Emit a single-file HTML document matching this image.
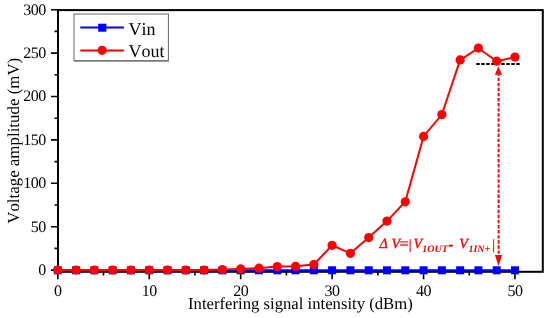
<!DOCTYPE html><html><head><meta charset="utf-8"><style>html,body{margin:0;padding:0;background:#fff;width:550px;height:318px;overflow:hidden}svg{display:block}text{font-family:"Liberation Serif","Times New Roman",serif;font-kerning:none;text-rendering:geometricPrecision}.k{}</style></head><body>
<svg width="550" height="318" viewBox="0 0 550 318">
<rect width="550" height="318" fill="#fff"/>
<path d="M51 270.10H58 M51 226.70H58 M51 183.30H58 M51 139.90H58 M51 96.50H58 M51 53.10H58 M51 9.70H58 M54.5 248.40H58 M54.5 205.00H58 M54.5 161.60H58 M54.5 118.20H58 M54.5 74.80H58 M54.5 31.40H58 M57.80 271.8V279.2 M149.24 271.8V279.2 M240.68 271.8V279.2 M332.12 271.8V279.2 M423.56 271.8V279.2 M515.00 271.8V279.2 M103.52 271.8V275.6 M194.96 271.8V275.6 M286.40 271.8V275.6 M377.84 271.8V275.6 M469.28 271.8V275.6" stroke="#000" stroke-width="1.6" fill="none"/>
<rect x="58" y="10.1" width="484.80" height="261.70" fill="none" stroke="#000" stroke-width="2"/>
<text class="k" x="45.9" y="274.95" font-size="16" text-anchor="end" letter-spacing="-0.45">0</text>
<text class="k" x="45.9" y="231.55" font-size="16" text-anchor="end" letter-spacing="-0.45">50</text>
<text class="k" x="45.9" y="188.15" font-size="16" text-anchor="end" letter-spacing="-0.45">100</text>
<text class="k" x="45.9" y="144.75" font-size="16" text-anchor="end" letter-spacing="-0.45">150</text>
<text class="k" x="45.9" y="101.35" font-size="16" text-anchor="end" letter-spacing="-0.45">200</text>
<text class="k" x="45.9" y="57.95" font-size="16" text-anchor="end" letter-spacing="-0.45">250</text>
<text class="k" x="45.9" y="14.55" font-size="16" text-anchor="end" letter-spacing="-0.45">300</text>
<text class="k" x="57.80" y="296" font-size="16" text-anchor="middle" letter-spacing="-0.45">0</text>
<text class="k" x="149.24" y="296" font-size="16" text-anchor="middle" letter-spacing="-0.45">10</text>
<text class="k" x="240.68" y="296" font-size="16" text-anchor="middle" letter-spacing="-0.45">20</text>
<text class="k" x="332.12" y="296" font-size="16" text-anchor="middle" letter-spacing="-0.45">30</text>
<text class="k" x="423.56" y="296" font-size="16" text-anchor="middle" letter-spacing="-0.45">40</text>
<text class="k" x="515.00" y="296" font-size="16" text-anchor="middle" letter-spacing="-0.45">50</text>
<text transform="translate(18.7,140.8) rotate(-90)" font-size="16.9" text-anchor="middle">Voltage amplitude (mV)</text>
<text x="300.4" y="308.9" font-size="16.7" text-anchor="middle">Interfering signal intensity (dBm)</text>
<path d="M476.3 64H520.5" stroke="#000" stroke-width="2" stroke-dasharray="3.4 1.6"/>
<polyline points="57.80,270.3 76.09,270.3 94.38,270.3 112.66,270.3 130.95,270.3 149.24,270.3 167.53,270.3 185.82,270.3 204.10,270.3 222.39,270.3 240.68,270.3 258.97,270.3 277.26,270.3 295.54,270.3 313.83,270.3 332.12,270.3 350.41,270.3 368.70,270.3 386.98,270.3 405.27,270.3 423.56,270.3 441.85,270.3 460.14,270.3 478.42,270.3 496.71,270.3 515.00,270.3" fill="none" stroke="#0000ff" stroke-width="2"/>
<rect x="53.80" y="266.30" width="8" height="8" fill="#0000ff"/>
<rect x="72.09" y="266.30" width="8" height="8" fill="#0000ff"/>
<rect x="90.38" y="266.30" width="8" height="8" fill="#0000ff"/>
<rect x="108.66" y="266.30" width="8" height="8" fill="#0000ff"/>
<rect x="126.95" y="266.30" width="8" height="8" fill="#0000ff"/>
<rect x="145.24" y="266.30" width="8" height="8" fill="#0000ff"/>
<rect x="163.53" y="266.30" width="8" height="8" fill="#0000ff"/>
<rect x="181.82" y="266.30" width="8" height="8" fill="#0000ff"/>
<rect x="200.10" y="266.30" width="8" height="8" fill="#0000ff"/>
<rect x="218.39" y="266.30" width="8" height="8" fill="#0000ff"/>
<rect x="236.68" y="266.30" width="8" height="8" fill="#0000ff"/>
<rect x="254.97" y="266.30" width="8" height="8" fill="#0000ff"/>
<rect x="273.26" y="266.30" width="8" height="8" fill="#0000ff"/>
<rect x="291.54" y="266.30" width="8" height="8" fill="#0000ff"/>
<rect x="309.83" y="266.30" width="8" height="8" fill="#0000ff"/>
<rect x="328.12" y="266.30" width="8" height="8" fill="#0000ff"/>
<rect x="346.41" y="266.30" width="8" height="8" fill="#0000ff"/>
<rect x="364.70" y="266.30" width="8" height="8" fill="#0000ff"/>
<rect x="382.98" y="266.30" width="8" height="8" fill="#0000ff"/>
<rect x="401.27" y="266.30" width="8" height="8" fill="#0000ff"/>
<rect x="419.56" y="266.30" width="8" height="8" fill="#0000ff"/>
<rect x="437.85" y="266.30" width="8" height="8" fill="#0000ff"/>
<rect x="456.14" y="266.30" width="8" height="8" fill="#0000ff"/>
<rect x="474.42" y="266.30" width="8" height="8" fill="#0000ff"/>
<rect x="492.71" y="266.30" width="8" height="8" fill="#0000ff"/>
<rect x="511.00" y="266.30" width="8" height="8" fill="#0000ff"/>
<polyline points="57.80,270 76.09,270 94.38,270 112.66,270 130.95,270 149.24,270 167.53,270 185.82,270 204.10,270.1 222.39,269.6 240.68,268.9 258.97,268.2 277.26,266.6 295.54,266.3 313.83,264.5 332.12,245.3 350.41,253.3 368.70,237.6 386.98,221.1 405.27,201.8 423.56,136.4 441.85,114.6 460.14,59.9 478.42,48.1 496.71,61.2 515.00,57.1" fill="none" stroke="#ff0000" stroke-width="2"/>
<circle cx="57.80" cy="270" r="4.6" fill="#ff0000"/>
<circle cx="76.09" cy="270" r="4.6" fill="#ff0000"/>
<circle cx="94.38" cy="270" r="4.6" fill="#ff0000"/>
<circle cx="112.66" cy="270" r="4.6" fill="#ff0000"/>
<circle cx="130.95" cy="270" r="4.6" fill="#ff0000"/>
<circle cx="149.24" cy="270" r="4.6" fill="#ff0000"/>
<circle cx="167.53" cy="270" r="4.6" fill="#ff0000"/>
<circle cx="185.82" cy="270" r="4.6" fill="#ff0000"/>
<circle cx="204.10" cy="270.1" r="4.6" fill="#ff0000"/>
<circle cx="222.39" cy="269.6" r="4.6" fill="#ff0000"/>
<circle cx="240.68" cy="268.9" r="4.6" fill="#ff0000"/>
<circle cx="258.97" cy="268.2" r="4.6" fill="#ff0000"/>
<circle cx="277.26" cy="266.6" r="4.6" fill="#ff0000"/>
<circle cx="295.54" cy="266.3" r="4.6" fill="#ff0000"/>
<circle cx="313.83" cy="264.5" r="4.6" fill="#ff0000"/>
<circle cx="332.12" cy="245.3" r="4.6" fill="#ff0000"/>
<circle cx="350.41" cy="253.3" r="4.6" fill="#ff0000"/>
<circle cx="368.70" cy="237.6" r="4.6" fill="#ff0000"/>
<circle cx="386.98" cy="221.1" r="4.6" fill="#ff0000"/>
<circle cx="405.27" cy="201.8" r="4.6" fill="#ff0000"/>
<circle cx="423.56" cy="136.4" r="4.6" fill="#ff0000"/>
<circle cx="441.85" cy="114.6" r="4.6" fill="#ff0000"/>
<circle cx="460.14" cy="59.9" r="4.6" fill="#ff0000"/>
<circle cx="478.42" cy="48.1" r="4.6" fill="#ff0000"/>
<circle cx="496.71" cy="61.2" r="4.6" fill="#ff0000"/>
<circle cx="515.00" cy="57.1" r="4.6" fill="#ff0000"/>
<path d="M498.6 75V255" stroke="#ff0000" stroke-width="1.9" stroke-dasharray="3.4 1.68" stroke-dashoffset="2.38"/>
<path d="M498.4 66.3L501.9 74.8H494.9Z" fill="#ff0000"/>
<path d="M498.5 266.3L502 254.9H495Z" fill="#ff0000"/>
<text x="379.6" y="248.4" font-size="14" fill="#ff0000" stroke="#f00" stroke-width="0.35" font-style="italic">&#916;</text>
<text x="391.4" y="248.4" font-size="14" fill="#ff0000" stroke="#f00" stroke-width="0.35" font-style="italic">V</text>
<text x="399.5" y="249.1" font-size="16.5" fill="#ff0000" stroke="#f00" stroke-width="0.3">=</text>
<text x="408.8" y="249.4" font-size="14" fill="#ff0000" stroke="#f00" stroke-width="0.25">|</text>
<text x="413.4" y="248.4" font-size="14" fill="#ff0000" stroke="#f00" stroke-width="0.35" font-style="italic">V</text>
<text x="422.3" y="251.6" font-size="10" fill="#ff0000" font-style="italic" font-weight="bold">1OUT</text>
<text x="448.6" y="248.8" font-size="14" fill="#ff0000" stroke="#f00" stroke-width="0.6" font-style="italic" font-weight="bold">-</text>
<text x="459.3" y="248.4" font-size="14" fill="#ff0000" stroke="#f00" stroke-width="0.35" font-style="italic">V</text>
<text x="468.4" y="251.6" font-size="10" fill="#ff0000" font-style="italic" font-weight="bold">1IN+</text>
<text x="492.2" y="249.4" font-size="14" fill="#ff0000" stroke="#f00" stroke-width="0.25">|</text>
<rect x="74" y="14" width="94.4" height="46.6" fill="#fff" stroke="#666" stroke-width="1"/>
<path d="M74 61.3H168.9" stroke="#888" stroke-width="1"/>
<path d="M80.3 27.5H123.9" stroke="#0000ff" stroke-width="2"/>
<rect x="98.2" y="23.7" width="8.2" height="8" fill="#0000ff"/>
<path d="M80.3 50.4H123.9" stroke="#ff0000" stroke-width="2"/>
<circle cx="102.1" cy="50.3" r="4.6" fill="#ff0000"/>
<text x="128.6" y="34.5" font-size="18">Vin</text>
<text x="128.6" y="56.6" font-size="18">Vout</text>
</svg></body></html>
